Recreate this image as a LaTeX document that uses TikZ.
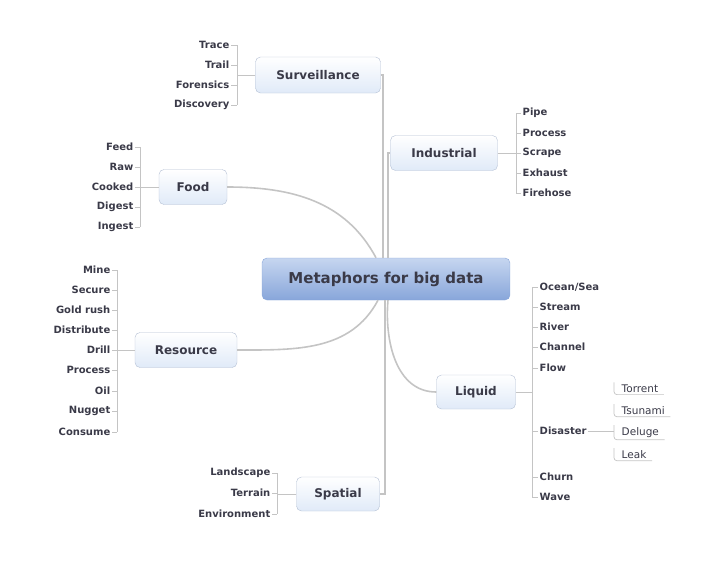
\documentclass[tikz,border=0pt]{standalone}
\usepackage{fontspec}
\setmainfont{DejaVu Sans}
\usetikzlibrary{calc}
\definecolor{ink}{HTML}{3A3A48}
\definecolor{wire}{HTML}{C4C4C4}
\definecolor{boxline}{HTML}{B4C0D4}
\definecolor{boxfill}{HTML}{E0EAF8}
\definecolor{maintop}{HTML}{C6D6F0}
\definecolor{mainbot}{HTML}{88A6DA}
\tikzset{
	% topic boxes and leaves of the map
	topic/.style={draw=boxline,rounded corners=5,top color=white,bottom color=boxfill,
		text=ink,font=\fontsize{12}{14}\selectfont\bfseries,inner sep=0pt},
	leafL/.style={anchor=east,text=ink,font=\fontsize{10}{12}\selectfont\bfseries,inner sep=1.5pt},
	leafR/.style={anchor=west,text=ink,font=\fontsize{10}{12}\selectfont\bfseries,inner sep=1.5pt},
	sub/.style={anchor=west,text=ink,font=\fontsize{10.5}{12}\selectfont,inner sep=1.5pt},
	brace/.style={draw=wire,line width=0.7pt},
	trunk/.style={draw=wire,line width=1.6pt}
}
\begin{document}
\begin{tikzpicture}[x=1pt,y=-1pt]
	\useasboundingbox (0,0) rectangle (717,560);
	% main topics
	\node[draw=mainbot,rounded corners=5,top color=maintop,bottom color=mainbot,
		text=ink,font=\fontsize{15}{17}\selectfont\bfseries,minimum width=248,minimum height=42]
		(Central) at (386,279) {Metaphors for big data};
	\node[topic,minimum width=125,minimum height=36] (Surveillance) at (318,75) {Surveillance};
	\node[topic,minimum width=107,minimum height=35] (Industrial) at (444,153) {Industrial};
	\node[topic,minimum width=68,minimum height=35] (Food) at (193,187) {Food};
	\node[topic,minimum width=102,minimum height=35] (Resource) at (186,350) {Resource};
	\node[topic,minimum width=79,minimum height=34] (Liquid) at (476,392) {Liquid};
	\node[topic,minimum width=83,minimum height=34] (Spatial) at (338,494) {Spatial};
	
	% trunks
	\draw[trunk] ([xshift=-3]Central.north) |- (Surveillance.east);
	\draw[trunk] ([xshift=2]Central.north) |- (Industrial.west);
	\draw[trunk] ([xshift=-1]Central.south) |- (Spatial.east);
	\draw[trunk] (Food.east) to[out=0,in=118] ([xshift=-10]Central.north);
	\draw[trunk] (Resource.east) to[out=0,in=-118] ([xshift=-8]Central.south);
	\draw[trunk] ([xshift=2]Central.south) to[out=-95,in=180] (Liquid.west);
	
	% Surveillance
	\coordinate (sv) at (237,75);
	\foreach \t/\y [count=\i] in {Trace/45,Trail/65,Forensics/85,Discovery/105}{
		\node[leafL] (sv\i) at (231,\y) {\t};
		\draw[brace] (sv\i.east) -- (sv\i.east -| sv);
	}
	\draw[brace] (sv1.east -| sv) -- (sv4.east -| sv);
	\draw[brace] (Surveillance.west) -- (sv);
	
	% Industrial
	\coordinate (in) at (516,153);
	\foreach \t/\y [count=\i] in {Pipe/113,Process/133,Scrape/153,Exhaust/173,Firehose/193}{
		\node[leafR] (in\i) at (521,\y) {\t};
		\draw[brace] (in\i.west) -- (in\i.west -| in);
	}
	\draw[brace] (in1.west -| in) -- (in5.west -| in);
	\draw[brace] (Industrial.east) -- (in);
	
	% Food
	\coordinate (fd) at (140,187);
	\foreach \t/\y [count=\i] in {Feed/147,Raw/167,Cooked/187,Digest/207,Ingest/227}{
		\node[leafL] (fd\i) at (135,\y) {\t};
		\draw[brace] (fd\i.east) -- (fd\i.east -| fd);
	}
	\draw[brace] (fd1.east -| fd) -- (fd5.east -| fd);
	\draw[brace] (Food.west) -- (fd);
	
	% Resource
	\coordinate (rs) at (117,350);
	\foreach \t/\y [count=\i] in {Mine/270,Secure/290,Gold rush/310,Distribute/330,Drill/350,
		Process/370,Oil/391,Nugget/411,Consume/432}{
		\node[leafL] (rs\i) at (112,\y) {\t};
		\draw[brace] (rs\i.east) -- (rs\i.east -| rs);
	}
	\draw[brace] (rs1.east -| rs) -- (rs9.east -| rs);
	\draw[brace] (Resource.west) -- (rs);
	
	% Liquid
	\coordinate (lq) at (532,392);
	\foreach \t/\y [count=\i] in {{Ocean/Sea}/287,Stream/307,River/327,Channel/347,Flow/368,
		Disaster/431,Churn/477,Wave/497}{
		\node[leafR] (lq\i) at (538,\y) {\t};
		\draw[brace] (lq\i.west) -- (lq\i.west -| lq);
	}
	\draw[brace] (lq1.west -| lq) -- (lq8.west -| lq);
	\draw[brace] (Liquid.east) -- (lq);
	
	% Disaster
	\coordinate (ds) at (614,431);
	\foreach \t/\y [count=\i] in {Torrent/389,Tsunami/411,Deluge/433,Leak/455}{
		\node[sub] (ds\i) at (620,\y) {\t};
		\draw[brace,rounded corners=3] ([yshift=1]ds\i.north west -| ds) |- ([xshift=4]ds\i.south east);
	}
	\draw[brace] (lq6.east) -- (ds);
	
	% Spatial
	\coordinate (sp) at (277,494);
	\foreach \t/\y [count=\i] in {Landscape/473,Terrain/493,Environment/514}{
		\node[leafL] (sp\i) at (272,\y) {\t};
		\draw[brace] (sp\i.east) -- (sp\i.east -| sp);
	}
	\draw[brace] (sp1.east -| sp) -- (sp3.east -| sp);
	\draw[brace] (Spatial.west) -- (sp);
\end{tikzpicture}
\end{document}
